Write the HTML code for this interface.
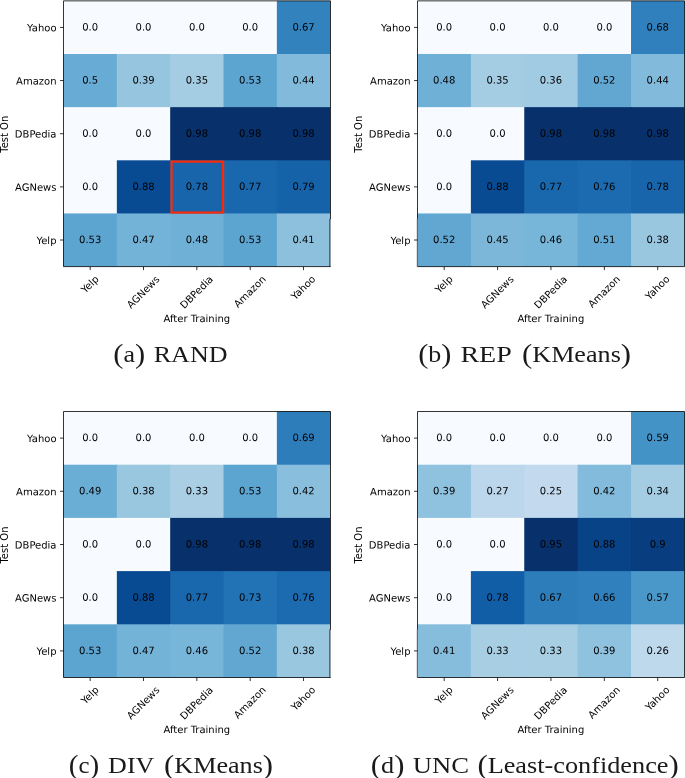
<!DOCTYPE html>
<html><head><meta charset="utf-8"><title>heatmaps</title>
<style>
html,body{margin:0;padding:0;background:#fff;}
svg{display:block;}
text{font-family:"DejaVu Sans","Liberation Sans",sans-serif;font-size:10px;fill:#000;}
.cap{font-family:"Liberation Serif","DejaVu Serif",serif;font-size:23px;fill:#1a1a1a;}
.par{font-size:27px;}
</style></head><body>
<svg width="685" height="778" viewBox="0 0 685 778">
<rect width="685" height="778" fill="#fff"/>

<g>
<rect x="63.50" y="0.85" width="54.34" height="54.15" fill="#f7fbff"/>
<rect x="116.84" y="0.85" width="54.34" height="54.15" fill="#f7fbff"/>
<rect x="170.18" y="0.85" width="54.34" height="54.15" fill="#f7fbff"/>
<rect x="223.52" y="0.85" width="54.34" height="54.15" fill="#f7fbff"/>
<rect x="276.86" y="0.85" width="53.34" height="54.15" fill="#3282be"/>
<rect x="63.50" y="54.00" width="54.34" height="54.15" fill="#68acd5"/>
<rect x="116.84" y="54.00" width="54.34" height="54.15" fill="#95c5df"/>
<rect x="170.18" y="54.00" width="54.34" height="54.15" fill="#a4cce3"/>
<rect x="223.52" y="54.00" width="54.34" height="54.15" fill="#5da5d1"/>
<rect x="276.86" y="54.00" width="53.34" height="54.15" fill="#81badb"/>
<rect x="63.50" y="107.15" width="54.34" height="54.15" fill="#f7fbff"/>
<rect x="116.84" y="107.15" width="54.34" height="54.15" fill="#f7fbff"/>
<rect x="170.18" y="107.15" width="54.34" height="54.15" fill="#08306b"/>
<rect x="223.52" y="107.15" width="54.34" height="54.15" fill="#08306b"/>
<rect x="276.86" y="107.15" width="53.34" height="54.15" fill="#08306b"/>
<rect x="63.50" y="160.30" width="54.34" height="54.15" fill="#f7fbff"/>
<rect x="116.84" y="160.30" width="54.34" height="54.15" fill="#084b93"/>
<rect x="170.18" y="160.30" width="54.34" height="54.15" fill="#1865ac"/>
<rect x="223.52" y="160.30" width="54.34" height="54.15" fill="#1967ad"/>
<rect x="276.86" y="160.30" width="53.34" height="54.15" fill="#1562a9"/>
<rect x="63.50" y="213.45" width="54.34" height="53.15" fill="#5da5d1"/>
<rect x="116.84" y="213.45" width="54.34" height="53.15" fill="#74b3d8"/>
<rect x="170.18" y="213.45" width="54.34" height="53.15" fill="#6fb0d7"/>
<rect x="223.52" y="213.45" width="54.34" height="53.15" fill="#5da5d1"/>
<rect x="276.86" y="213.45" width="53.34" height="53.15" fill="#8cc0dd"/>
<path d="M330.50 218.75V0.85H63.50V266.60H329.95" fill="none" stroke="#000" stroke-width="0.8" stroke-linecap="square"/>
<path d="M329.95 218.75V267.00" fill="none" stroke="#000" stroke-width="0.8"/>
<line x1="60.00" y1="27.43" x2="63.50" y2="27.43" stroke="#000" stroke-width="0.8"/>
<line x1="90.17" y1="266.60" x2="90.17" y2="270.10" stroke="#000" stroke-width="0.8"/>
<text text-anchor="end" transform="translate(56.50,31.32) rotate(0.03)">Yahoo</text>
<text text-anchor="middle" transform="translate(90.17,284.66) rotate(-45)" y="3.00">Yelp</text>
<line x1="60.00" y1="80.57" x2="63.50" y2="80.57" stroke="#000" stroke-width="0.8"/>
<line x1="143.51" y1="266.60" x2="143.51" y2="270.10" stroke="#000" stroke-width="0.8"/>
<text text-anchor="end" transform="translate(56.50,84.47) rotate(0.03)">Amazon</text>
<text text-anchor="middle" transform="translate(143.51,292.31) rotate(-45)" y="3.00">AGNews</text>
<line x1="60.00" y1="133.72" x2="63.50" y2="133.72" stroke="#000" stroke-width="0.8"/>
<line x1="196.85" y1="266.60" x2="196.85" y2="270.10" stroke="#000" stroke-width="0.8"/>
<text text-anchor="end" transform="translate(56.50,137.62) rotate(0.03)">DBPedia</text>
<text text-anchor="middle" transform="translate(196.85,292.40) rotate(-45)" y="3.00">DBPedia</text>
<line x1="60.00" y1="186.88" x2="63.50" y2="186.88" stroke="#000" stroke-width="0.8"/>
<line x1="250.19" y1="266.60" x2="250.19" y2="270.10" stroke="#000" stroke-width="0.8"/>
<text text-anchor="end" transform="translate(56.50,190.78) rotate(0.03)">AGNews</text>
<text text-anchor="middle" transform="translate(250.19,291.82) rotate(-45)" y="3.00">Amazon</text>
<line x1="60.00" y1="240.02" x2="63.50" y2="240.02" stroke="#000" stroke-width="0.8"/>
<line x1="303.53" y1="266.60" x2="303.53" y2="270.10" stroke="#000" stroke-width="0.8"/>
<text text-anchor="end" transform="translate(56.50,243.92) rotate(0.03)">Yelp</text>
<text text-anchor="middle" transform="translate(303.53,287.93) rotate(-45)" y="3.00">Yahoo</text>
<text text-anchor="middle" transform="translate(90.17,30.43) rotate(0.03)">0.0</text>
<text text-anchor="middle" transform="translate(143.51,30.43) rotate(0.03)">0.0</text>
<text text-anchor="middle" transform="translate(196.85,30.43) rotate(0.03)">0.0</text>
<text text-anchor="middle" transform="translate(250.19,30.43) rotate(0.03)">0.0</text>
<text text-anchor="middle" transform="translate(303.53,30.43) rotate(0.03)">0.67</text>
<text text-anchor="middle" transform="translate(90.17,83.57) rotate(0.03)">0.5</text>
<text text-anchor="middle" transform="translate(143.51,83.57) rotate(0.03)">0.39</text>
<text text-anchor="middle" transform="translate(196.85,83.57) rotate(0.03)">0.35</text>
<text text-anchor="middle" transform="translate(250.19,83.57) rotate(0.03)">0.53</text>
<text text-anchor="middle" transform="translate(303.53,83.57) rotate(0.03)">0.44</text>
<text text-anchor="middle" transform="translate(90.17,136.72) rotate(0.03)">0.0</text>
<text text-anchor="middle" transform="translate(143.51,136.72) rotate(0.03)">0.0</text>
<text text-anchor="middle" transform="translate(196.85,136.72) rotate(0.03)">0.98</text>
<text text-anchor="middle" transform="translate(250.19,136.72) rotate(0.03)">0.98</text>
<text text-anchor="middle" transform="translate(303.53,136.72) rotate(0.03)">0.98</text>
<text text-anchor="middle" transform="translate(90.17,189.88) rotate(0.03)">0.0</text>
<text text-anchor="middle" transform="translate(143.51,189.88) rotate(0.03)">0.88</text>
<text text-anchor="middle" transform="translate(196.85,189.88) rotate(0.03)">0.78</text>
<text text-anchor="middle" transform="translate(250.19,189.88) rotate(0.03)">0.77</text>
<text text-anchor="middle" transform="translate(303.53,189.88) rotate(0.03)">0.79</text>
<text text-anchor="middle" transform="translate(90.17,243.02) rotate(0.03)">0.53</text>
<text text-anchor="middle" transform="translate(143.51,243.02) rotate(0.03)">0.47</text>
<text text-anchor="middle" transform="translate(196.85,243.02) rotate(0.03)">0.48</text>
<text text-anchor="middle" transform="translate(250.19,243.02) rotate(0.03)">0.53</text>
<text text-anchor="middle" transform="translate(303.53,243.02) rotate(0.03)">0.41</text>
<text text-anchor="middle" transform="translate(196.85,322.10) rotate(0.03)">After Training</text>
<text text-anchor="middle" transform="translate(7.90,134.22) rotate(-90)">Test On</text>
<rect x="171.58" y="161.60" width="51.54" height="50.95" fill="none" stroke="#fb2a08" stroke-width="2.2"/>
<text class="cap" x="113.21" y="362.1" textLength="31.97" lengthAdjust="spacingAndGlyphs"><tspan class="par" dy="0.7">(</tspan><tspan dy="-0.7">a</tspan><tspan class="par" dy="0.7">)</tspan></text>
<text class="cap" x="153.74" y="362.1" textLength="73.72" lengthAdjust="spacingAndGlyphs">RAND</text>
</g>
<g>
<rect x="417.50" y="0.85" width="54.38" height="54.15" fill="#f7fbff"/>
<rect x="470.88" y="0.85" width="54.38" height="54.15" fill="#f7fbff"/>
<rect x="524.26" y="0.85" width="54.38" height="54.15" fill="#f7fbff"/>
<rect x="577.64" y="0.85" width="54.38" height="54.15" fill="#f7fbff"/>
<rect x="631.02" y="0.85" width="53.38" height="54.15" fill="#3080bd"/>
<rect x="417.50" y="54.00" width="54.38" height="54.15" fill="#6fb0d7"/>
<rect x="470.88" y="54.00" width="54.38" height="54.15" fill="#a4cce3"/>
<rect x="524.26" y="54.00" width="54.38" height="54.15" fill="#a0cbe2"/>
<rect x="577.64" y="54.00" width="54.38" height="54.15" fill="#61a7d2"/>
<rect x="631.02" y="54.00" width="53.38" height="54.15" fill="#81badb"/>
<rect x="417.50" y="107.15" width="54.38" height="54.15" fill="#f7fbff"/>
<rect x="470.88" y="107.15" width="54.38" height="54.15" fill="#f7fbff"/>
<rect x="524.26" y="107.15" width="54.38" height="54.15" fill="#08306b"/>
<rect x="577.64" y="107.15" width="54.38" height="54.15" fill="#08306b"/>
<rect x="631.02" y="107.15" width="53.38" height="54.15" fill="#08306b"/>
<rect x="417.50" y="160.30" width="54.38" height="54.15" fill="#f7fbff"/>
<rect x="470.88" y="160.30" width="54.38" height="54.15" fill="#084b93"/>
<rect x="524.26" y="160.30" width="54.38" height="54.15" fill="#1967ad"/>
<rect x="577.64" y="160.30" width="54.38" height="54.15" fill="#1c6ab0"/>
<rect x="631.02" y="160.30" width="53.38" height="54.15" fill="#1865ac"/>
<rect x="417.50" y="213.45" width="54.38" height="53.15" fill="#61a7d2"/>
<rect x="470.88" y="213.45" width="54.38" height="53.15" fill="#7cb7da"/>
<rect x="524.26" y="213.45" width="54.38" height="53.15" fill="#77b5d9"/>
<rect x="577.64" y="213.45" width="54.38" height="53.15" fill="#64a9d3"/>
<rect x="631.02" y="213.45" width="53.38" height="53.15" fill="#99c7e0"/>
<path d="M417.50 218.75V0.85H684.50V266.60H417.50" fill="none" stroke="#000" stroke-width="0.8" stroke-linecap="square"/>
<rect x="417.00" y="218.75" width="1" height="48.25" fill="#666"/><rect x="416.00" y="218.75" width="1" height="48.25" fill="#e2e2e2"/>
<line x1="414.00" y1="27.43" x2="417.50" y2="27.43" stroke="#000" stroke-width="0.8"/>
<line x1="444.19" y1="266.60" x2="444.19" y2="270.10" stroke="#000" stroke-width="0.8"/>
<text text-anchor="end" transform="translate(410.50,31.32) rotate(0.03)">Yahoo</text>
<text text-anchor="middle" transform="translate(444.19,284.66) rotate(-45)" y="3.00">Yelp</text>
<line x1="414.00" y1="80.57" x2="417.50" y2="80.57" stroke="#000" stroke-width="0.8"/>
<line x1="497.57" y1="266.60" x2="497.57" y2="270.10" stroke="#000" stroke-width="0.8"/>
<text text-anchor="end" transform="translate(410.50,84.47) rotate(0.03)">Amazon</text>
<text text-anchor="middle" transform="translate(497.57,292.31) rotate(-45)" y="3.00">AGNews</text>
<line x1="414.00" y1="133.72" x2="417.50" y2="133.72" stroke="#000" stroke-width="0.8"/>
<line x1="550.95" y1="266.60" x2="550.95" y2="270.10" stroke="#000" stroke-width="0.8"/>
<text text-anchor="end" transform="translate(410.50,137.62) rotate(0.03)">DBPedia</text>
<text text-anchor="middle" transform="translate(550.95,292.40) rotate(-45)" y="3.00">DBPedia</text>
<line x1="414.00" y1="186.88" x2="417.50" y2="186.88" stroke="#000" stroke-width="0.8"/>
<line x1="604.33" y1="266.60" x2="604.33" y2="270.10" stroke="#000" stroke-width="0.8"/>
<text text-anchor="end" transform="translate(410.50,190.78) rotate(0.03)">AGNews</text>
<text text-anchor="middle" transform="translate(604.33,291.82) rotate(-45)" y="3.00">Amazon</text>
<line x1="414.00" y1="240.02" x2="417.50" y2="240.02" stroke="#000" stroke-width="0.8"/>
<line x1="657.71" y1="266.60" x2="657.71" y2="270.10" stroke="#000" stroke-width="0.8"/>
<text text-anchor="end" transform="translate(410.50,243.92) rotate(0.03)">Yelp</text>
<text text-anchor="middle" transform="translate(657.71,287.93) rotate(-45)" y="3.00">Yahoo</text>
<text text-anchor="middle" transform="translate(444.19,30.43) rotate(0.03)">0.0</text>
<text text-anchor="middle" transform="translate(497.57,30.43) rotate(0.03)">0.0</text>
<text text-anchor="middle" transform="translate(550.95,30.43) rotate(0.03)">0.0</text>
<text text-anchor="middle" transform="translate(604.33,30.43) rotate(0.03)">0.0</text>
<text text-anchor="middle" transform="translate(657.71,30.43) rotate(0.03)">0.68</text>
<text text-anchor="middle" transform="translate(444.19,83.57) rotate(0.03)">0.48</text>
<text text-anchor="middle" transform="translate(497.57,83.57) rotate(0.03)">0.35</text>
<text text-anchor="middle" transform="translate(550.95,83.57) rotate(0.03)">0.36</text>
<text text-anchor="middle" transform="translate(604.33,83.57) rotate(0.03)">0.52</text>
<text text-anchor="middle" transform="translate(657.71,83.57) rotate(0.03)">0.44</text>
<text text-anchor="middle" transform="translate(444.19,136.72) rotate(0.03)">0.0</text>
<text text-anchor="middle" transform="translate(497.57,136.72) rotate(0.03)">0.0</text>
<text text-anchor="middle" transform="translate(550.95,136.72) rotate(0.03)">0.98</text>
<text text-anchor="middle" transform="translate(604.33,136.72) rotate(0.03)">0.98</text>
<text text-anchor="middle" transform="translate(657.71,136.72) rotate(0.03)">0.98</text>
<text text-anchor="middle" transform="translate(444.19,189.88) rotate(0.03)">0.0</text>
<text text-anchor="middle" transform="translate(497.57,189.88) rotate(0.03)">0.88</text>
<text text-anchor="middle" transform="translate(550.95,189.88) rotate(0.03)">0.77</text>
<text text-anchor="middle" transform="translate(604.33,189.88) rotate(0.03)">0.76</text>
<text text-anchor="middle" transform="translate(657.71,189.88) rotate(0.03)">0.78</text>
<text text-anchor="middle" transform="translate(444.19,243.02) rotate(0.03)">0.52</text>
<text text-anchor="middle" transform="translate(497.57,243.02) rotate(0.03)">0.45</text>
<text text-anchor="middle" transform="translate(550.95,243.02) rotate(0.03)">0.46</text>
<text text-anchor="middle" transform="translate(604.33,243.02) rotate(0.03)">0.51</text>
<text text-anchor="middle" transform="translate(657.71,243.02) rotate(0.03)">0.38</text>
<text text-anchor="middle" transform="translate(550.95,322.10) rotate(0.03)">After Training</text>
<text text-anchor="middle" transform="translate(361.90,134.22) rotate(-90)">Test On</text>
<text class="cap" x="418.22" y="362.1" textLength="33.24" lengthAdjust="spacingAndGlyphs"><tspan class="par" dy="0.7">(</tspan><tspan dy="-0.7">b</tspan><tspan class="par" dy="0.7">)</tspan></text>
<text class="cap" x="460.40" y="362.1" textLength="51.33" lengthAdjust="spacingAndGlyphs">REP</text>
<text class="cap" x="522.05" y="362.1" textLength="108.99" lengthAdjust="spacingAndGlyphs"><tspan class="par" dy="0.7">(</tspan><tspan dy="-0.7">KMeans</tspan><tspan class="par" dy="0.7">)</tspan></text>
</g>
<g>
<rect x="63.50" y="411.50" width="54.34" height="54.20" fill="#f7fbff"/>
<rect x="116.84" y="411.50" width="54.34" height="54.20" fill="#f7fbff"/>
<rect x="170.18" y="411.50" width="54.34" height="54.20" fill="#f7fbff"/>
<rect x="223.52" y="411.50" width="54.34" height="54.20" fill="#f7fbff"/>
<rect x="276.86" y="411.50" width="53.34" height="54.20" fill="#2d7dbb"/>
<rect x="63.50" y="464.70" width="54.34" height="54.20" fill="#6aaed6"/>
<rect x="116.84" y="464.70" width="54.34" height="54.20" fill="#99c7e0"/>
<rect x="170.18" y="464.70" width="54.34" height="54.20" fill="#aacfe5"/>
<rect x="223.52" y="464.70" width="54.34" height="54.20" fill="#5da5d1"/>
<rect x="276.86" y="464.70" width="53.34" height="54.20" fill="#89bedc"/>
<rect x="63.50" y="517.90" width="54.34" height="54.20" fill="#f7fbff"/>
<rect x="116.84" y="517.90" width="54.34" height="54.20" fill="#f7fbff"/>
<rect x="170.18" y="517.90" width="54.34" height="54.20" fill="#08306b"/>
<rect x="223.52" y="517.90" width="54.34" height="54.20" fill="#08306b"/>
<rect x="276.86" y="517.90" width="53.34" height="54.20" fill="#08306b"/>
<rect x="63.50" y="571.10" width="54.34" height="54.20" fill="#f7fbff"/>
<rect x="116.84" y="571.10" width="54.34" height="54.20" fill="#084b93"/>
<rect x="170.18" y="571.10" width="54.34" height="54.20" fill="#1967ad"/>
<rect x="223.52" y="571.10" width="54.34" height="54.20" fill="#2272b6"/>
<rect x="276.86" y="571.10" width="53.34" height="54.20" fill="#1c6ab0"/>
<rect x="63.50" y="624.30" width="54.34" height="53.20" fill="#5da5d1"/>
<rect x="116.84" y="624.30" width="54.34" height="53.20" fill="#74b3d8"/>
<rect x="170.18" y="624.30" width="54.34" height="53.20" fill="#77b5d9"/>
<rect x="223.52" y="624.30" width="54.34" height="53.20" fill="#61a7d2"/>
<rect x="276.86" y="624.30" width="53.34" height="53.20" fill="#99c7e0"/>
<path d="M330.50 629.40V411.50H63.50V677.50H329.95" fill="none" stroke="#000" stroke-width="0.8" stroke-linecap="square"/>
<path d="M329.95 629.40V677.90" fill="none" stroke="#000" stroke-width="0.8"/>
<line x1="60.00" y1="438.10" x2="63.50" y2="438.10" stroke="#000" stroke-width="0.8"/>
<line x1="90.17" y1="677.50" x2="90.17" y2="681.00" stroke="#000" stroke-width="0.8"/>
<text text-anchor="end" transform="translate(56.50,442.00) rotate(0.03)">Yahoo</text>
<text text-anchor="middle" transform="translate(90.17,695.56) rotate(-45)" y="3.00">Yelp</text>
<line x1="60.00" y1="491.30" x2="63.50" y2="491.30" stroke="#000" stroke-width="0.8"/>
<line x1="143.51" y1="677.50" x2="143.51" y2="681.00" stroke="#000" stroke-width="0.8"/>
<text text-anchor="end" transform="translate(56.50,495.20) rotate(0.03)">Amazon</text>
<text text-anchor="middle" transform="translate(143.51,703.21) rotate(-45)" y="3.00">AGNews</text>
<line x1="60.00" y1="544.50" x2="63.50" y2="544.50" stroke="#000" stroke-width="0.8"/>
<line x1="196.85" y1="677.50" x2="196.85" y2="681.00" stroke="#000" stroke-width="0.8"/>
<text text-anchor="end" transform="translate(56.50,548.40) rotate(0.03)">DBPedia</text>
<text text-anchor="middle" transform="translate(196.85,703.30) rotate(-45)" y="3.00">DBPedia</text>
<line x1="60.00" y1="597.70" x2="63.50" y2="597.70" stroke="#000" stroke-width="0.8"/>
<line x1="250.19" y1="677.50" x2="250.19" y2="681.00" stroke="#000" stroke-width="0.8"/>
<text text-anchor="end" transform="translate(56.50,601.60) rotate(0.03)">AGNews</text>
<text text-anchor="middle" transform="translate(250.19,702.72) rotate(-45)" y="3.00">Amazon</text>
<line x1="60.00" y1="650.90" x2="63.50" y2="650.90" stroke="#000" stroke-width="0.8"/>
<line x1="303.53" y1="677.50" x2="303.53" y2="681.00" stroke="#000" stroke-width="0.8"/>
<text text-anchor="end" transform="translate(56.50,654.80) rotate(0.03)">Yelp</text>
<text text-anchor="middle" transform="translate(303.53,698.83) rotate(-45)" y="3.00">Yahoo</text>
<text text-anchor="middle" transform="translate(90.17,441.10) rotate(0.03)">0.0</text>
<text text-anchor="middle" transform="translate(143.51,441.10) rotate(0.03)">0.0</text>
<text text-anchor="middle" transform="translate(196.85,441.10) rotate(0.03)">0.0</text>
<text text-anchor="middle" transform="translate(250.19,441.10) rotate(0.03)">0.0</text>
<text text-anchor="middle" transform="translate(303.53,441.10) rotate(0.03)">0.69</text>
<text text-anchor="middle" transform="translate(90.17,494.30) rotate(0.03)">0.49</text>
<text text-anchor="middle" transform="translate(143.51,494.30) rotate(0.03)">0.38</text>
<text text-anchor="middle" transform="translate(196.85,494.30) rotate(0.03)">0.33</text>
<text text-anchor="middle" transform="translate(250.19,494.30) rotate(0.03)">0.53</text>
<text text-anchor="middle" transform="translate(303.53,494.30) rotate(0.03)">0.42</text>
<text text-anchor="middle" transform="translate(90.17,547.50) rotate(0.03)">0.0</text>
<text text-anchor="middle" transform="translate(143.51,547.50) rotate(0.03)">0.0</text>
<text text-anchor="middle" transform="translate(196.85,547.50) rotate(0.03)">0.98</text>
<text text-anchor="middle" transform="translate(250.19,547.50) rotate(0.03)">0.98</text>
<text text-anchor="middle" transform="translate(303.53,547.50) rotate(0.03)">0.98</text>
<text text-anchor="middle" transform="translate(90.17,600.70) rotate(0.03)">0.0</text>
<text text-anchor="middle" transform="translate(143.51,600.70) rotate(0.03)">0.88</text>
<text text-anchor="middle" transform="translate(196.85,600.70) rotate(0.03)">0.77</text>
<text text-anchor="middle" transform="translate(250.19,600.70) rotate(0.03)">0.73</text>
<text text-anchor="middle" transform="translate(303.53,600.70) rotate(0.03)">0.76</text>
<text text-anchor="middle" transform="translate(90.17,653.90) rotate(0.03)">0.53</text>
<text text-anchor="middle" transform="translate(143.51,653.90) rotate(0.03)">0.47</text>
<text text-anchor="middle" transform="translate(196.85,653.90) rotate(0.03)">0.46</text>
<text text-anchor="middle" transform="translate(250.19,653.90) rotate(0.03)">0.52</text>
<text text-anchor="middle" transform="translate(303.53,653.90) rotate(0.03)">0.38</text>
<text text-anchor="middle" transform="translate(196.85,733.00) rotate(0.03)">After Training</text>
<text text-anchor="middle" transform="translate(7.90,545.00) rotate(-90)">Test On</text>
<text class="cap" x="68.77" y="773" textLength="30.48" lengthAdjust="spacingAndGlyphs"><tspan class="par" dy="0.7">(</tspan><tspan dy="-0.7">c</tspan><tspan class="par" dy="0.7">)</tspan></text>
<text class="cap" x="108.11" y="773" textLength="46.28" lengthAdjust="spacingAndGlyphs">DIV</text>
<text class="cap" x="164.07" y="773" textLength="109.02" lengthAdjust="spacingAndGlyphs"><tspan class="par" dy="0.7">(</tspan><tspan dy="-0.7">KMeans</tspan><tspan class="par" dy="0.7">)</tspan></text>
</g>
<g>
<rect x="417.50" y="411.50" width="54.38" height="54.20" fill="#f7fbff"/>
<rect x="470.88" y="411.50" width="54.38" height="54.20" fill="#f7fbff"/>
<rect x="524.26" y="411.50" width="54.38" height="54.20" fill="#f7fbff"/>
<rect x="577.64" y="411.50" width="54.38" height="54.20" fill="#f7fbff"/>
<rect x="631.02" y="411.50" width="53.38" height="54.20" fill="#4493c7"/>
<rect x="417.50" y="464.70" width="54.38" height="54.20" fill="#8fc2de"/>
<rect x="470.88" y="464.70" width="54.38" height="54.20" fill="#bcd7eb"/>
<rect x="524.26" y="464.70" width="54.38" height="54.20" fill="#c2d9ee"/>
<rect x="577.64" y="464.70" width="54.38" height="54.20" fill="#82bbdb"/>
<rect x="631.02" y="464.70" width="53.38" height="54.20" fill="#a4cce3"/>
<rect x="417.50" y="517.90" width="54.38" height="54.20" fill="#f7fbff"/>
<rect x="470.88" y="517.90" width="54.38" height="54.20" fill="#f7fbff"/>
<rect x="524.26" y="517.90" width="54.38" height="54.20" fill="#08306b"/>
<rect x="577.64" y="517.90" width="54.38" height="54.20" fill="#084387"/>
<rect x="631.02" y="517.90" width="53.38" height="54.20" fill="#083d7f"/>
<rect x="417.50" y="571.10" width="54.38" height="54.20" fill="#f7fbff"/>
<rect x="470.88" y="571.10" width="54.38" height="54.20" fill="#125ea6"/>
<rect x="524.26" y="571.10" width="54.38" height="54.20" fill="#2d7dbb"/>
<rect x="577.64" y="571.10" width="54.38" height="54.20" fill="#3080bd"/>
<rect x="631.02" y="571.10" width="53.38" height="54.20" fill="#4a98c9"/>
<rect x="417.50" y="624.30" width="54.38" height="53.20" fill="#87bddc"/>
<rect x="470.88" y="624.30" width="54.38" height="53.20" fill="#a8cee4"/>
<rect x="524.26" y="624.30" width="54.38" height="53.20" fill="#a8cee4"/>
<rect x="577.64" y="624.30" width="54.38" height="53.20" fill="#8fc2de"/>
<rect x="631.02" y="624.30" width="53.38" height="53.20" fill="#bed8ec"/>
<path d="M417.50 629.40V411.50H684.50V677.50H417.50" fill="none" stroke="#000" stroke-width="0.8" stroke-linecap="square"/>
<rect x="417.00" y="629.40" width="1" height="48.50" fill="#666"/><rect x="416.00" y="629.40" width="1" height="48.50" fill="#e2e2e2"/>
<line x1="414.00" y1="438.10" x2="417.50" y2="438.10" stroke="#000" stroke-width="0.8"/>
<line x1="444.19" y1="677.50" x2="444.19" y2="681.00" stroke="#000" stroke-width="0.8"/>
<text text-anchor="end" transform="translate(410.50,442.00) rotate(0.03)">Yahoo</text>
<text text-anchor="middle" transform="translate(444.19,695.56) rotate(-45)" y="3.00">Yelp</text>
<line x1="414.00" y1="491.30" x2="417.50" y2="491.30" stroke="#000" stroke-width="0.8"/>
<line x1="497.57" y1="677.50" x2="497.57" y2="681.00" stroke="#000" stroke-width="0.8"/>
<text text-anchor="end" transform="translate(410.50,495.20) rotate(0.03)">Amazon</text>
<text text-anchor="middle" transform="translate(497.57,703.21) rotate(-45)" y="3.00">AGNews</text>
<line x1="414.00" y1="544.50" x2="417.50" y2="544.50" stroke="#000" stroke-width="0.8"/>
<line x1="550.95" y1="677.50" x2="550.95" y2="681.00" stroke="#000" stroke-width="0.8"/>
<text text-anchor="end" transform="translate(410.50,548.40) rotate(0.03)">DBPedia</text>
<text text-anchor="middle" transform="translate(550.95,703.30) rotate(-45)" y="3.00">DBPedia</text>
<line x1="414.00" y1="597.70" x2="417.50" y2="597.70" stroke="#000" stroke-width="0.8"/>
<line x1="604.33" y1="677.50" x2="604.33" y2="681.00" stroke="#000" stroke-width="0.8"/>
<text text-anchor="end" transform="translate(410.50,601.60) rotate(0.03)">AGNews</text>
<text text-anchor="middle" transform="translate(604.33,702.72) rotate(-45)" y="3.00">Amazon</text>
<line x1="414.00" y1="650.90" x2="417.50" y2="650.90" stroke="#000" stroke-width="0.8"/>
<line x1="657.71" y1="677.50" x2="657.71" y2="681.00" stroke="#000" stroke-width="0.8"/>
<text text-anchor="end" transform="translate(410.50,654.80) rotate(0.03)">Yelp</text>
<text text-anchor="middle" transform="translate(657.71,698.83) rotate(-45)" y="3.00">Yahoo</text>
<text text-anchor="middle" transform="translate(444.19,441.10) rotate(0.03)">0.0</text>
<text text-anchor="middle" transform="translate(497.57,441.10) rotate(0.03)">0.0</text>
<text text-anchor="middle" transform="translate(550.95,441.10) rotate(0.03)">0.0</text>
<text text-anchor="middle" transform="translate(604.33,441.10) rotate(0.03)">0.0</text>
<text text-anchor="middle" transform="translate(657.71,441.10) rotate(0.03)">0.59</text>
<text text-anchor="middle" transform="translate(444.19,494.30) rotate(0.03)">0.39</text>
<text text-anchor="middle" transform="translate(497.57,494.30) rotate(0.03)">0.27</text>
<text text-anchor="middle" transform="translate(550.95,494.30) rotate(0.03)">0.25</text>
<text text-anchor="middle" transform="translate(604.33,494.30) rotate(0.03)">0.42</text>
<text text-anchor="middle" transform="translate(657.71,494.30) rotate(0.03)">0.34</text>
<text text-anchor="middle" transform="translate(444.19,547.50) rotate(0.03)">0.0</text>
<text text-anchor="middle" transform="translate(497.57,547.50) rotate(0.03)">0.0</text>
<text text-anchor="middle" transform="translate(550.95,547.50) rotate(0.03)">0.95</text>
<text text-anchor="middle" transform="translate(604.33,547.50) rotate(0.03)">0.88</text>
<text text-anchor="middle" transform="translate(657.71,547.50) rotate(0.03)">0.9</text>
<text text-anchor="middle" transform="translate(444.19,600.70) rotate(0.03)">0.0</text>
<text text-anchor="middle" transform="translate(497.57,600.70) rotate(0.03)">0.78</text>
<text text-anchor="middle" transform="translate(550.95,600.70) rotate(0.03)">0.67</text>
<text text-anchor="middle" transform="translate(604.33,600.70) rotate(0.03)">0.66</text>
<text text-anchor="middle" transform="translate(657.71,600.70) rotate(0.03)">0.57</text>
<text text-anchor="middle" transform="translate(444.19,653.90) rotate(0.03)">0.41</text>
<text text-anchor="middle" transform="translate(497.57,653.90) rotate(0.03)">0.33</text>
<text text-anchor="middle" transform="translate(550.95,653.90) rotate(0.03)">0.33</text>
<text text-anchor="middle" transform="translate(604.33,653.90) rotate(0.03)">0.39</text>
<text text-anchor="middle" transform="translate(657.71,653.90) rotate(0.03)">0.26</text>
<text text-anchor="middle" transform="translate(550.95,733.00) rotate(0.03)">After Training</text>
<text text-anchor="middle" transform="translate(361.90,545.00) rotate(-90)">Test On</text>
<text class="cap" x="370.84" y="773" textLength="33.57" lengthAdjust="spacingAndGlyphs"><tspan class="par" dy="0.7">(</tspan><tspan dy="-0.7">d</tspan><tspan class="par" dy="0.7">)</tspan></text>
<text class="cap" x="412.74" y="773" textLength="56.23" lengthAdjust="spacingAndGlyphs">UNC</text>
<text class="cap" x="477.40" y="773" textLength="201.34" lengthAdjust="spacingAndGlyphs"><tspan class="par" dy="0.7">(</tspan><tspan dy="-0.7">Least-confidence</tspan><tspan class="par" dy="0.7">)</tspan></text>
</g>
</svg></body></html>
